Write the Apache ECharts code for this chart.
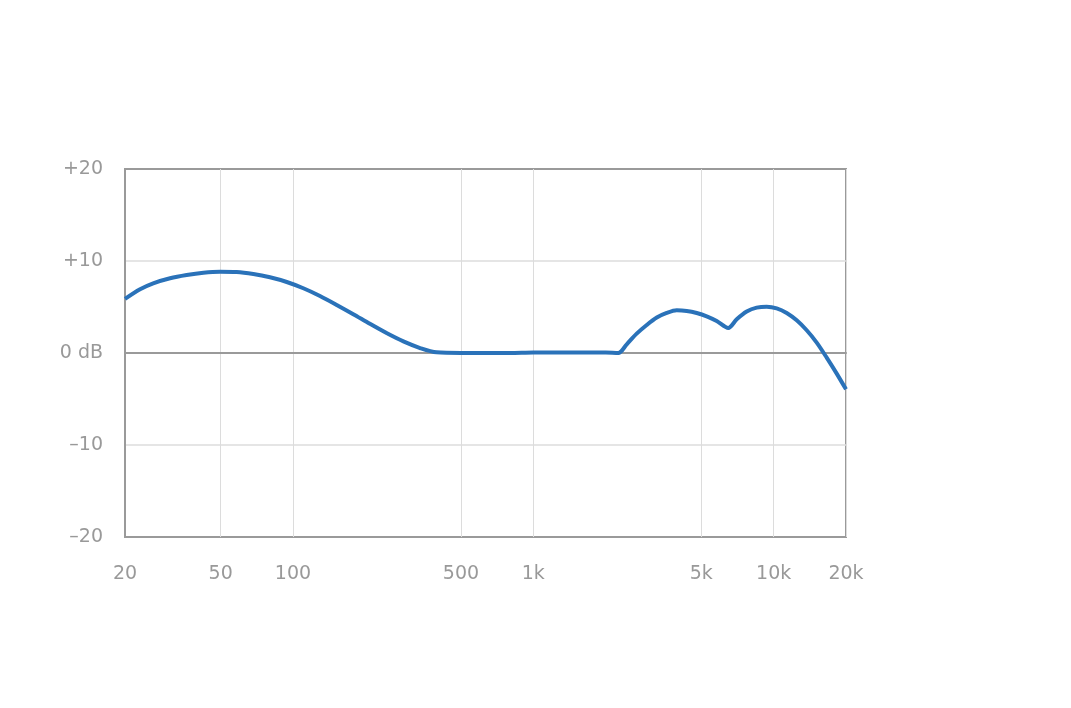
<!DOCTYPE html>
<html>
<head>
<meta charset="utf-8">
<script src="https://cdn.jsdelivr.net/npm/echarts@6/dist/echarts.min.js"></script>
<style>
html,body{margin:0;padding:0;background:#fff;}
#chart{width:1071px;height:708px;}
</style>
</head>
<body>
<div id="chart"></div>
<script>
// Frequency response (Hz, dB)
const freqs = [20, 23.1, 26.2, 30.8, 36.1, 42.4, 49.7, 58.3, 68.4, 80.2, 94.2, 110.4, 129.5, 152, 178.2,
               209, 245, 288, 338, 396, 500, 800, 1000, 1500, 2000, 2258,
               2448, 2692, 2964, 3264, 3590, 3950, 4348, 4784, 5265, 5794, 6476,
               7020, 7724, 8500, 9354, 10298, 11332, 12472, 13726, 15106, 16622, 18298, 20000];
const levels = [5.88, 6.93, 7.58, 8.13, 8.48, 8.73, 8.84, 8.81, 8.59, 8.23, 7.72, 7.04, 6.2, 5.23, 4.22,
                3.17, 2.17, 1.26, 0.54, 0.07, 0, 0, 0.05, 0.05, 0.05, 0,
                0.95, 2.1, 3.04, 3.85, 4.35, 4.64, 4.57, 4.35, 3.99, 3.48, 2.72,
                3.66, 4.5, 4.93, 5.04, 4.86, 4.35, 3.55, 2.47, 1.13, -0.5, -2.24, -3.95];
const xTicks = [20, 50, 100, 500, 1000, 5000, 10000, 20000];
const xTickLabels = {20:'20', 50:'50', 100:'100', 500:'500', 1000:'1k', 5000:'5k', 10000:'10k', 20000:'20k'};
const yTickLabels = {'-20':'–20', '-10':'–10', '0':'0 dB', '10':'+10', '20':'+20'};

const chart = echarts.init(document.getElementById('chart'));
const font = '"DejaVu Sans", sans-serif';
chart.setOption({
  animation: false,
  grid: { left: 125, right: 225, top: 169, bottom: 171, show: true, borderColor: '#9a9a9a', borderWidth: 2, backgroundColor: 'transparent' },
  xAxis: {
    type: 'log', logBase: 10, min: 20, max: 20000,
    axisLine: { show: true, lineStyle: { color: '#9a9a9a', width: 2 } },
    axisTick: { show: false, customValues: xTicks },
    splitLine: { show: true, lineStyle: { color: '#dcdcdc', width: 1 } },
    minorSplitLine: { show: false },
    axisLabel: {
      customValues: xTicks,
      formatter: v => xTickLabels[Math.round(v)] || '',
      color: '#999', fontFamily: font, fontSize: 19, margin: 28
    }
  },
  yAxis: {
    type: 'value', min: -20, max: 20, interval: 10,
    axisLine: { show: true, lineStyle: { color: '#9a9a9a', width: 2 } },
    axisTick: { show: false },
    splitLine: { show: true, lineStyle: { color: ['#9a9a9a', '#dcdcdc', '#a5a5a5', '#dcdcdc', '#9a9a9a'], width: 1.5 } },
    axisLabel: {
      formatter: v => yTickLabels[String(v)],
      color: '#999', fontFamily: font, fontSize: 19, margin: 22
    }
  },
  series: [{
    type: 'line',
    data: freqs.map((f, i) => [f, levels[i]]),
    smooth: 0.3,
    showSymbol: false,
    lineStyle: { color: '#2a72b9', width: 4 },
    itemStyle: { color: '#2a72b9' }
  }]
});
</script>
</body>
</html>
